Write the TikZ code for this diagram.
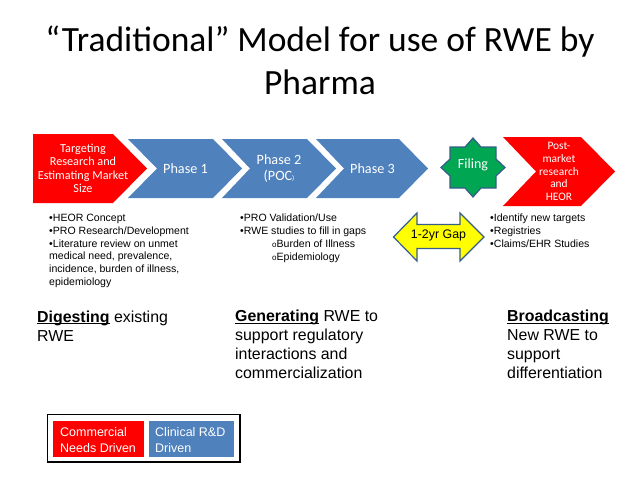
\documentclass[tikz,border=0pt]{standalone}
\usepackage{fontspec}
\setmainfont{Liberation Sans}
\newfontfamily\carl{Carlito}
\newcommand{\headword}[1]{\vphantom{Ag}\textbf{\underline{\smash{#1}}}}
\definecolor{rwered}{RGB}{254,0,0}
\definecolor{rweblue}{RGB}{79,129,189}
\definecolor{rwegreen}{RGB}{0,166,81}
\definecolor{rweedge}{RGB}{56,93,138}
\definecolor{rweyellow}{RGB}{255,255,0}
\tikzset{
  x=1pt,y=-1pt,
  chevred/.style={fill=rwered,draw=none},
  chevblue/.style={fill=rweblue,draw=none},
  chevtext/.style={font=\carl\fontsize{12.2}{13.4}\selectfont,text=white,align=center,inner sep=0pt},
  phasetext/.style={font=\carl\fontsize{14.2}{15.2}\selectfont,text=white,align=center,inner sep=0pt},
  small/.style={font=\fontsize{10.55}{12.8}\selectfont,text=black,align=left,anchor=north west,inner sep=0pt},
  big/.style={font=\fontsize{15.9}{19}\selectfont,text=black,align=left,anchor=north west,inner sep=0pt},
  legtext/.style={font=\fontsize{12.5}{15.8}\selectfont,text=white,align=left,anchor=north west,inner sep=0pt},
}
\begin{document}
\begin{tikzpicture}
\useasboundingbox (0,0) rectangle (638,479);
\fill[white] (0,0) rectangle (638,479);
\node[font=\carl\fontsize{35.5}{43}\selectfont,align=center,inner sep=0pt] (title) at (320,60.5) {“Traditional” Model for use of RWE by\\Pharma};
% chevrons
\fill[chevred] (33,134) -- (113,134) -- (147,168.5) -- (113,203) -- (33,203) -- cycle;
\fill[chevblue] (128,139) -- (213,139) -- (242,168.5) -- (213,198) -- (128,198) -- (157,168.5) -- cycle;
\fill[chevblue] (222,139) -- (307,139) -- (336,168.5) -- (307,198) -- (222,198) -- (250,168.5) -- cycle;
\fill[chevblue] (316,139) -- (399,139) -- (428,168.5) -- (399,198) -- (316,198) -- (344,168.5) -- cycle;
\fill[chevred] (503,137) -- (581,137) -- (615,171.5) -- (581,206) -- (503,206) -- (536,171.5) -- cycle;
\node[chevtext] (t0) at (83,168.5) {Targeting\\Research and\\Estimating Market\\Size};
\node[phasetext] (p1) at (185.5,169) {Phase 1};
\node[phasetext] (p2) at (279,168.5) {Phase 2\\(POC{\scriptsize)}};
\node[phasetext] (p3) at (372.5,169) {Phase 3};
\node[chevtext,font=\carl\fontsize{11.4}{12.8}\selectfont] (pm) at (559,171.5) {Post-\\market\\research\\and\\HEOR};
% filing star
\draw[fill=rwegreen,draw=rweedge,line width=1.2pt] (473,138) -- (481,147) -- (496,147) -- (496,159) -- (505,167.5) -- (496,176) -- (496,188) -- (481,188) -- (473,197) -- (465,188) -- (450,188) -- (450,176) -- (441,167.5) -- (450,159) -- (450,147) -- (465,147) -- cycle;
\node[chevtext,font=\carl\fontsize{14}{15}\selectfont] (filing) at (473,165) {Filing};
% double arrow
\draw[fill=rweyellow,draw=rweedge,line width=1.2pt] (393.5,237) -- (417,213) -- (417,224.5) -- (460,224.5) -- (460,213) -- (484,237) -- (460,261) -- (460,248.5) -- (417,248.5) -- (417,261) -- cycle;
\node[font=\fontsize{12.4}{14}\selectfont,inner sep=0pt] (gap) at (438.5,235.5) {1-2yr Gap};
% bullets
\node[small] (b1) at (49,214) {•HEOR Concept\\•PRO Research/Development\\•Literature review on unmet\\medical need, prevalence,\\incidence, burden of illness,\\epidemiology};
\node[small] (b2) at (240,214) {•PRO Validation/Use\\•RWE studies to fill in gaps\\\hspace*{32pt}{\footnotesize o}Burden of Illness\\\hspace*{32pt}{\footnotesize o}Epidemiology};
\node[small] (b3) at (490,214) {•Identify new targets\\•Registries\\•Claims/EHR Studies};
% headings
\node[big] (d) at (37,310.5) {\headword{Digesting} existing\\RWE};
\node[big] (g) at (235,310.5) {\headword{Generating} RWE to\\support regulatory\\interactions and\\commercialization};
\node[big] (br) at (507,310.5) {\headword{Broadcasting}\\New RWE to\\support\\differentiation};
% legend
\draw[black,line width=1.2pt] (47.5,414.5) rectangle (240,462);
\fill[rwered] (53,421) rectangle (143.5,457);
\fill[rweblue] (149,421) rectangle (234,457);
\node[legtext] (l1) at (60,427.5) {Commercial\\Needs Driven};
\node[legtext] (l2) at (155,427.5) {Clinical R\&D\\Driven};
\end{tikzpicture}
\end{document}
